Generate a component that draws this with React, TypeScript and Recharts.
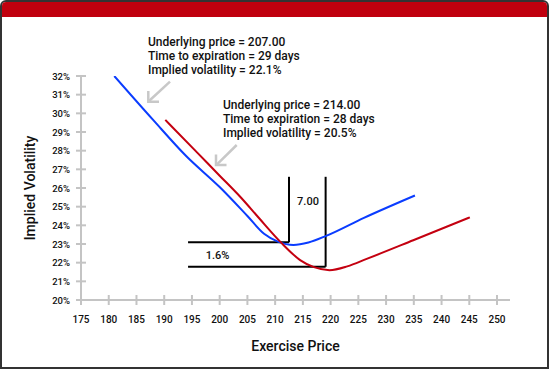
import { LineChart, Line, XAxis, YAxis, ReferenceLine, Label } from 'recharts';

// strike prices and implied vols
const blueStrikes = [181, 188, 194, 200, 205, 208, 210.5, 213.3, 216, 219.3, 226, 235.2];
const blueVols = [32.0, 29.65, 27.7, 26.05, 24.5, 23.55, 23.13, 22.95, 23.08, 23.45, 24.4, 25.6];
const redStrikes = [190.2, 196, 200, 203.7, 207, 211, 214.5, 217, 219.8, 223, 226.5, 234.9, 245.1];
const redVols = [29.65, 27.88, 26.66, 25.53, 24.42, 23.1, 22.14, 21.76, 21.6, 21.8, 22.2, 23.2, 24.43];

const xTicks = [175, 180, 185, 190, 195, 200, 205, 210, 215, 220, 225, 230, 235, 240, 245, 250];
const yTicks = [20, 21, 22, 23, 24, 25, 26, 27, 28, 29, 30, 31, 32];

// bracket annotation (strike, vol)
const bracketLeft = 194.3;
const bracketInner = 212.5;
const bracketOuter = 219.1;
const bracketTop = 26.6;
const volHigh = 23.09;
const volLow = 21.78;

const blueData = blueStrikes.map((s, i) => ({ strike: s, iv: blueVols[i] }));
const redData = redStrikes.map((s, i) => ({ strike: s, iv: redVols[i] }));

const FONT = 'Roboto, "Open Sans", sans-serif';
const AXIS_X = 81;
const AXIS_Y = 300;

const YTick = (props: any) => {
  const { y, payload } = props;
  return (
    <g>
      <line x1={AXIS_X - 5} x2={AXIS_X + 5} y1={y} y2={y} stroke="#c4c4c4" strokeWidth={2} />
      <text x={70} y={y + 3.5} textAnchor="end" fontSize={9.5} fontWeight={500} fontFamily={FONT} fill="#111">
        {payload.value}%
      </text>
    </g>
  );
};

const XTick = (props: any) => {
  const { x, payload } = props;
  return (
    <g>
      <line x1={x} x2={x} y1={AXIS_Y - 5} y2={AXIS_Y + 5} stroke="#c4c4c4" strokeWidth={2} />
      <text x={x} y={AXIS_Y + 23} textAnchor="middle" fontSize={10} fontWeight={500} fontFamily={FONT} fill="#111">
        {payload.value}
      </text>
    </g>
  );
};

const seg = (x1: number, y1: number, x2: number, y2: number) => [
  { x: x1, y: y1 },
  { x: x2, y: y2 },
];

const noteStyle: React.CSSProperties = {
  position: 'absolute',
  fontFamily: FONT,
  fontSize: 12,
  fontWeight: 500,
  lineHeight: '14px',
  color: '#111',
  whiteSpace: 'nowrap',
};

export default function App() {
  return (
    <div
      style={{
        position: 'absolute',
        left: 0,
        top: 0,
        width: 549,
        height: 369,
        background: '#fff',
        overflow: 'hidden',
      }}
    >
      <div
        style={{
          position: 'absolute',
          left: 0,
          top: 0,
          width: 545,
          height: 365,
          border: '2px solid #333',
          borderRadius: '6px 6px 0 0',
        }}
      />
      <div
        style={{
          position: 'absolute',
          left: 2,
          top: 2,
          width: 545,
          height: 15,
          background: '#c0000e',
          borderRadius: '4px 4px 0 0',
        }}
      />
      <div style={{ position: 'absolute', left: 0, top: 0 }}>
        <LineChart width={549} height={369} margin={{ top: 76, right: 39, bottom: 39, left: 0 }}>
          <XAxis
            dataKey="strike"
            type="number"
            domain={[175, 252.34]}
            ticks={xTicks}
            interval={0}
            allowDataOverflow
            axisLine={{ stroke: '#c4c4c4', strokeWidth: 2 }}
            tickLine={false}
            tick={<XTick />}
            height={30}
          >
            <Label
              value="Exercise Price"
              position="bottom"
              offset={11}
              style={{ fontFamily: FONT, fontSize: 14, fontWeight: 500, fill: '#111' }}
            />
          </XAxis>
          <YAxis
            type="number"
            domain={[20, 32]}
            ticks={yTicks}
            interval={0}
            allowDataOverflow
            width={81}
            axisLine={{ stroke: '#c4c4c4', strokeWidth: 2 }}
            tickLine={false}
            tick={<YTick />}
          >
            <Label
              value="Implied Volatility"
              angle={-90}
              position="insideLeft"
              offset={30}
              style={{ fontFamily: FONT, fontSize: 14, fontWeight: 500, fill: '#111', textAnchor: 'middle' }}
            />
          </YAxis>
          <ReferenceLine segment={seg(bracketLeft, volHigh, bracketInner, volHigh)} stroke="#000" strokeWidth={2} />
          <ReferenceLine segment={seg(bracketLeft, volLow, bracketOuter, volLow)} stroke="#000" strokeWidth={2} />
          <ReferenceLine segment={seg(bracketInner, volHigh, bracketInner, bracketTop)} stroke="#000" strokeWidth={2} />
          <ReferenceLine segment={seg(bracketOuter, volLow, bracketOuter, bracketTop)} stroke="#000" strokeWidth={2} />
          <Line
            data={blueData}
            dataKey="iv"
            type="monotone"
            stroke="#0a3cff"
            strokeWidth={2}
            dot={false}
            isAnimationActive={false}
          />
          <Line
            data={redData}
            dataKey="iv"
            type="monotone"
            stroke="#c40010"
            strokeWidth={2}
            dot={false}
            isAnimationActive={false}
          />
        </LineChart>
      </div>
      <svg
        width={549}
        height={369}
        style={{ position: 'absolute', left: 0, top: 0, pointerEvents: 'none' }}
      >
        <g stroke="#c8c8c8" strokeWidth={2.5} fill="none">
          <line x1={170} y1={81.7} x2={149} y2={101} />
          <polyline points="148.3,91 148.3,101.7 159,101.7" />
          <line x1={236.7} y1={145} x2={217} y2={164.3} />
          <polyline points="216,154.5 216,165 226.5,165" />
        </g>
        <text x={217.5} y={259} textAnchor="middle" fontSize={11} fontWeight={500} fontFamily={FONT} fill="#111">
          1.6%
        </text>
        <text x={308} y={204.5} textAnchor="middle" fontSize={11} fontWeight={500} fontFamily={FONT} fill="#111">
          7.00
        </text>
      </svg>
      <div style={{ ...noteStyle, left: 148, top: 35 }}>
        Underlying price = 207.00
        <br />
        Time to expiration = 29 days
        <br />
        Implied volatility = 22.1%
      </div>
      <div style={{ ...noteStyle, left: 223, top: 98 }}>
        Underlying price = 214.00
        <br />
        Time to expiration = 28 days
        <br />
        Implied volatility = 20.5%
      </div>
    </div>
  );
}
